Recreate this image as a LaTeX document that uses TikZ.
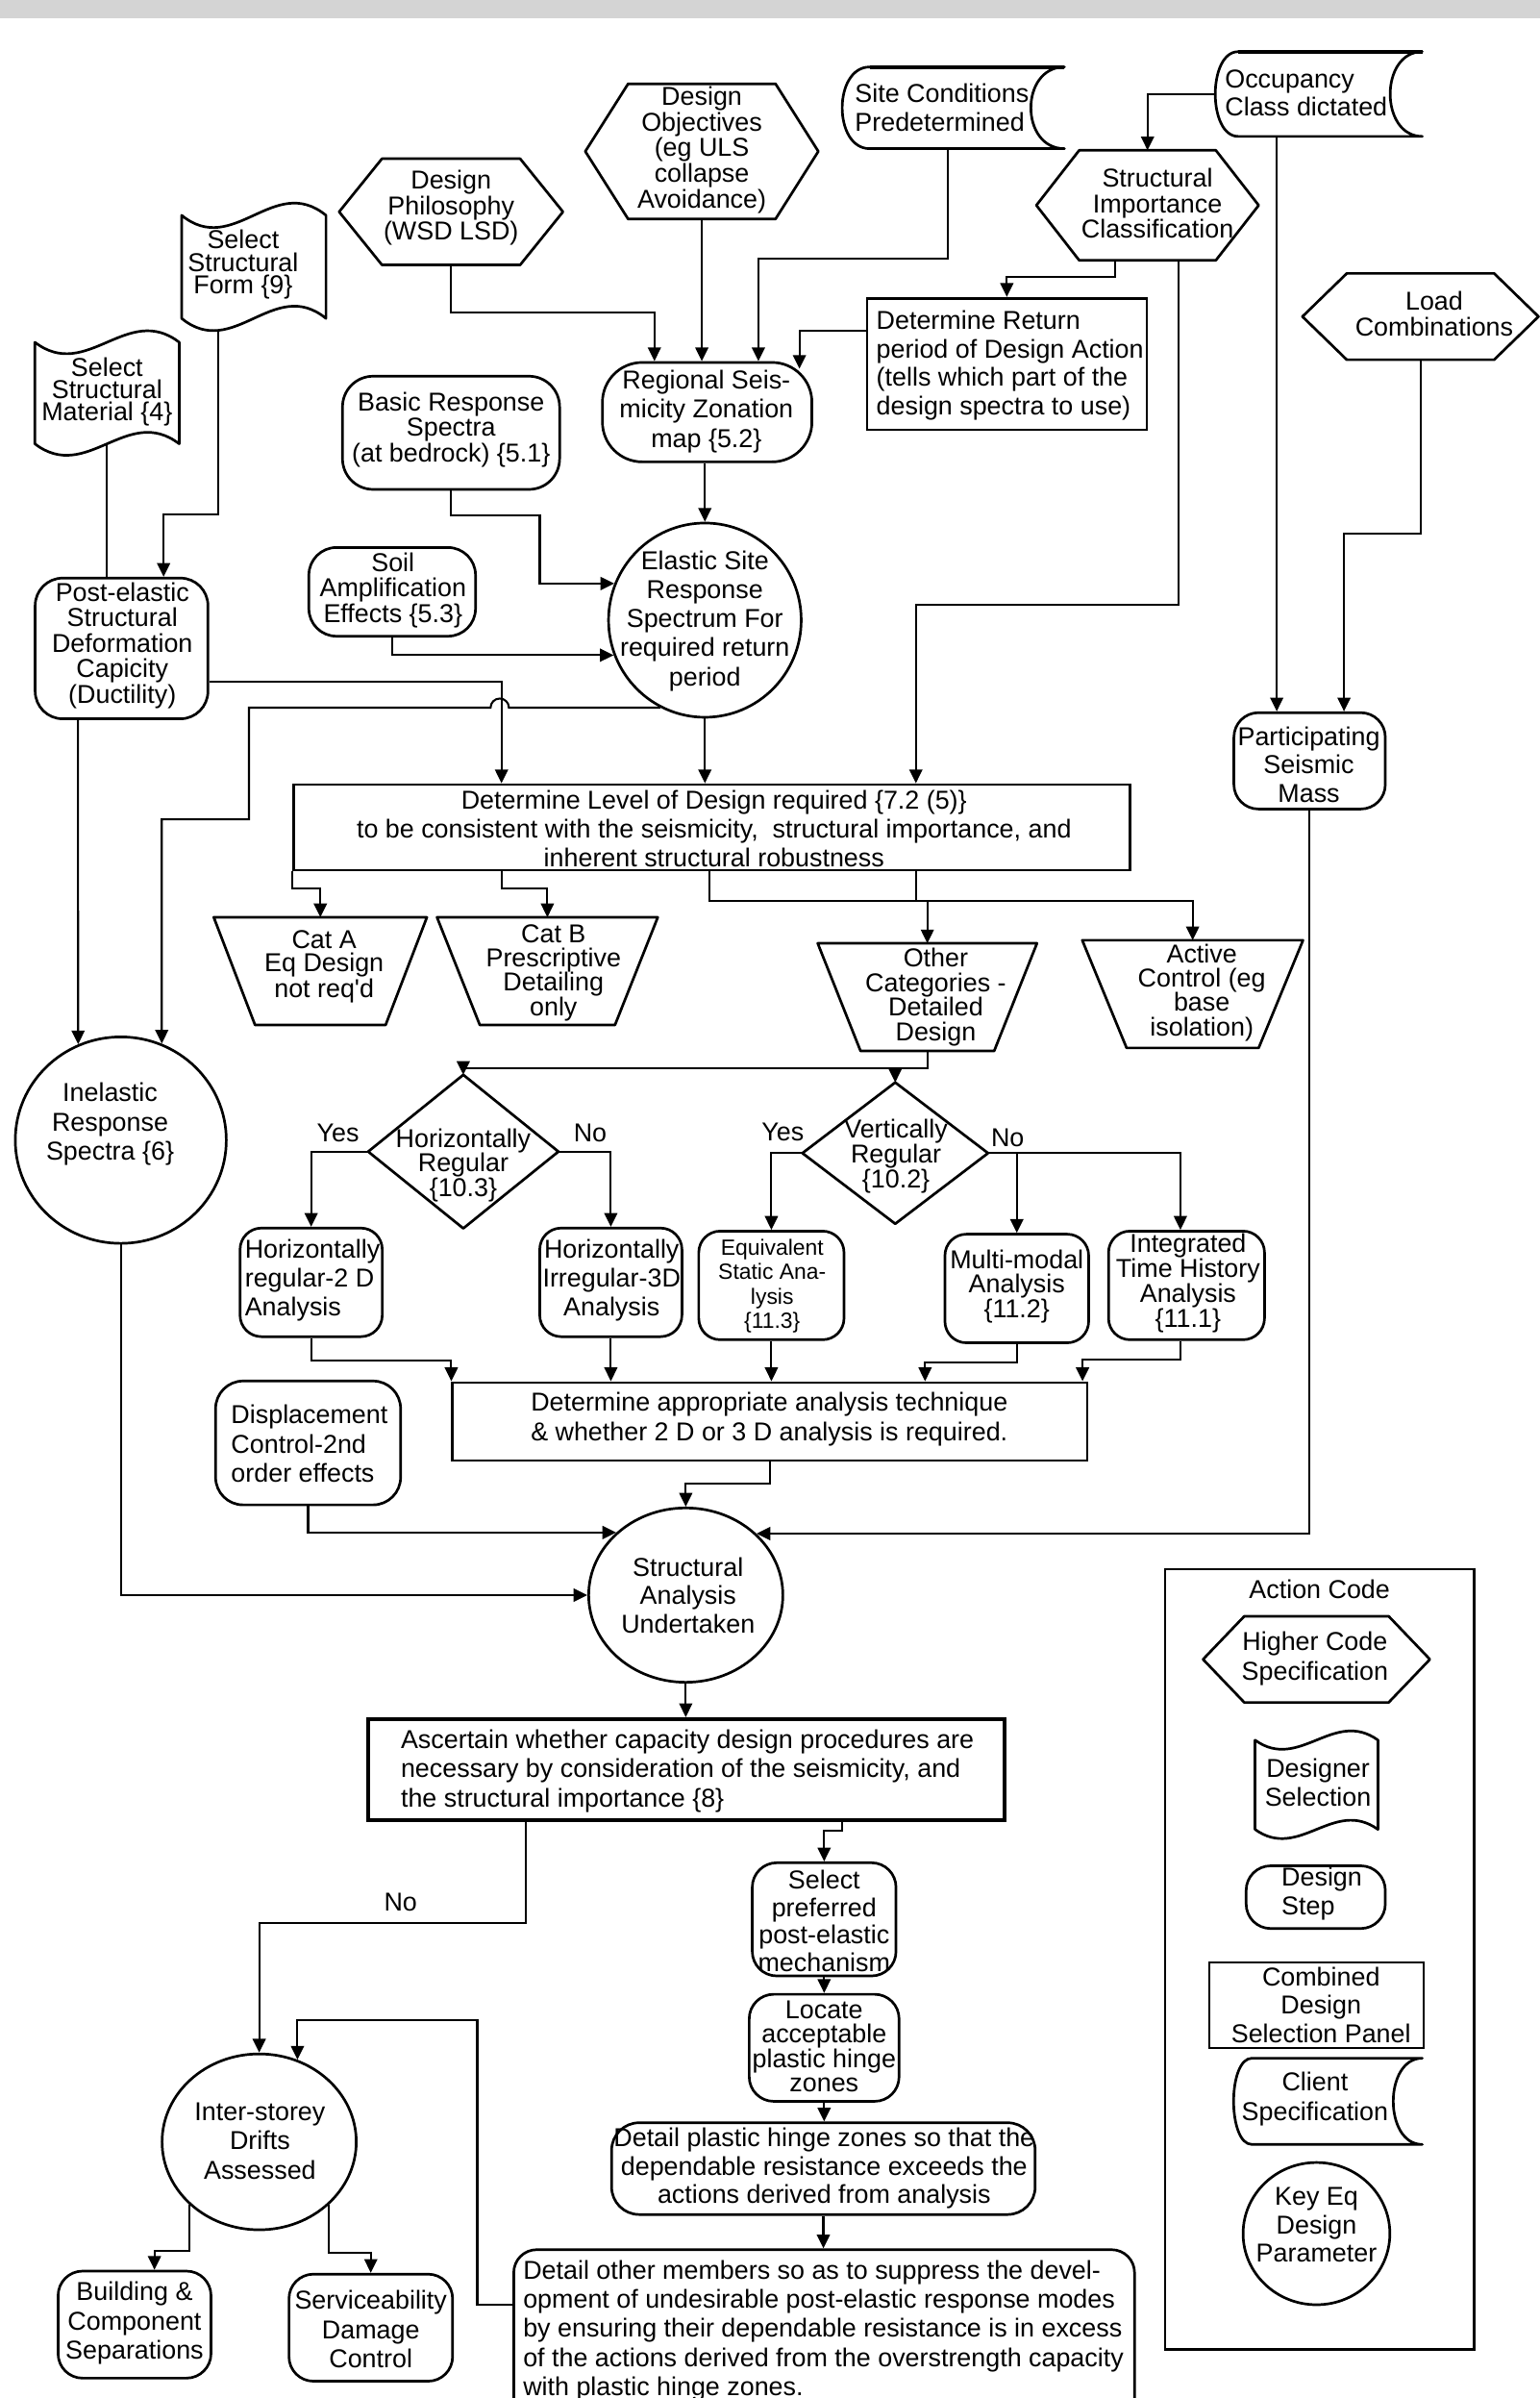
\documentclass[tikz,border=0pt]{standalone}
\usepackage{fontspec}
\setmainfont{Liberation Sans}
\usetikzlibrary{shapes.geometric,arrows.meta,calc}
\newcommand\hexo[2]{\draw[outl] (#1.west) -- ([xshift=#2]#1.north west) -- ([xshift=-#2]#1.north east) -- (#1.east) -- ([xshift=-#2]#1.south east) -- ([xshift=#2]#1.south west) -- cycle;}
\newcommand\trapo[2]{\draw[outl] (#1.north west) -- (#1.north east) -- ([xshift=-#2]#1.south east) -- ([xshift=#2]#1.south west) -- cycle;}
\newcommand\diamo[1]{\draw[outl] (#1.north) -- (#1.east) -- (#1.south) -- (#1.west) -- cycle;}
\newcommand\tapo[2]{\draw[outl] (#1.north west) .. controls ($(#1.north west)!0.36!(#1.north east)+(0,#2)$) and ($(#1.north west)!0.64!(#1.north east)+(0,-#2)$) .. (#1.north east) -- (#1.south east) .. controls ($(#1.south east)!0.36!(#1.south west)+(0,-#2)$) and ($(#1.south east)!0.64!(#1.south west)+(0,#2)$) .. (#1.south west) -- cycle;}
\newcommand\storo[3]{\draw[outl] ([xshift=#2]#1.north west) -- (#1.north east) .. controls ([xshift={-1.333*#3}]#1.north east) and ([xshift={-1.333*#3}]#1.south east) .. (#1.south east) -- ([xshift=#2]#1.south west) .. controls ([xshift={-0.333*#2}]#1.south west) and ([xshift={-0.333*#2}]#1.north west) .. cycle;}
\tikzset{
  outl/.style={line width=1.7pt, line join=round},
  sz/.style 2 args={minimum width=#1, minimum height=#2},
  sbox/.style={draw, rectangle, line width=1.7pt, inner sep=0pt},
  rbox/.style={sbox, rounded corners=#1},
  ghost/.style={draw=none, rectangle, inner sep=0pt},
  ell/.style={draw, ellipse, line width=1.7pt, inner sep=0pt},
  con/.style={line width=1.3pt},
  arr/.style={con, -{Triangle[length=9pt,width=8.5pt]}},
  tx/.style={inner sep=0pt, align=center, font=\fontsize{16.9}{#1}\selectfont},
  txs/.style={inner sep=0pt, align=center, font=\fontsize{14.4}{#1}\selectfont},
  tl/.style={inner sep=0pt, align=left, anchor=west, font=\fontsize{16.9}{#1}\selectfont},
}
\begin{document}
\begin{tikzpicture}[x=1pt,y=-1pt]
\useasboundingbox (0,0) rectangle (1007,1568);
\fill[black!17] (0,0) rectangle (1007,12);

% ---------- shapes ----------
\node[ghost,sz={152}{88}] (DO) at (459,99) {}; \hexo{DO}{28}
\node[ghost,sz={146}{69}] (DP) at (295,138.5) {}; \hexo{DP}{28}
\node[ghost,sz={145}{53}] (Site) at (623.5,70.5) {}; \storo{Site}{18}{22}
\draw[line width=2.6pt] ([xshift=18]Site.north west) -- (Site.north east);
\node[ghost,sz={135}{55}] (Occ) at (862.5,61.5) {}; \storo{Occ}{15}{21}
\draw[line width=2.6pt] ([xshift=15]Occ.north west) -- (Occ.north east);
\node[ghost,sz={145}{71.5}] (SIC) at (750.5,134.25) {}; \hexo{SIC}{28}
\node[sbox,sz={183}{86}] (Ret) at (658.5,238) {};
\node[ghost,sz={154}{56}] (Ld) at (929,207) {}; \hexo{Ld}{29}
\node[ghost,sz={94}{67}] (Frm) at (166,174.5) {}; \tapo{Frm}{27.7}
\node[ghost,sz={94}{66}] (Mat) at (70,257) {}; \tapo{Mat}{26}
\node[rbox=26,sz={137}{65}] (Reg) at (462.5,269.5) {};
\node[rbox=20,sz={142}{74}] (Bas) at (295,283) {};
\node[ell,sz={126}{127}] (El) at (461,405.5) {};
\node[rbox=18,sz={109}{58}] (Soil) at (256.5,387) {};
\node[rbox=18,sz={113}{92}] (PE) at (79.5,424) {};
\node[rbox=16,sz={99}{63}] (PSM) at (856.5,497.5) {};
\node[sbox,sz={547}{56}] (DL) at (465.5,541) {};
\node[ghost,sz={139}{70}] (CatA) at (209.5,635) {}; \trapo{CatA}{27}
\node[ghost,sz={144}{70}] (CatB) at (358,635) {}; \trapo{CatB}{28}
\node[ghost,sz={143}{70}] (Oth) at (606.5,652) {}; \trapo{Oth}{28}
\node[ghost,sz={144}{70}] (Act) at (780,650) {}; \trapo{Act}{29}
\node[ell,sz={138}{135}] (In) at (79,745.5) {};
\node[ghost,sz={124}{100}] (HR) at (303,753) {}; \diamo{HR}
\node[ghost,sz={121}{92}] (VR) at (585.5,754) {}; \diamo{VR}
\node[rbox=14,sz={93}{71}] (H2) at (203.5,838.5) {};
\node[rbox=14,sz={93}{71}] (H3) at (399.5,838.5) {};
\node[rbox=14,sz={95}{71}] (EQ) at (504.5,840.5) {};
\node[rbox=14,sz={94}{71}] (MM) at (665,842.5) {};
\node[rbox=14,sz={102}{71}] (IT) at (776,840.5) {};
\node[sbox,sz={415}{51}] (AN) at (503.5,929.5) {};
\node[rbox=18,sz={121}{81}] (Dsp) at (201.5,943.5) {};
\node[ell,sz={127}{114}] (SA) at (448.5,1043) {};
\node[sbox,line width=2.4pt,sz={416}{66}] (Asc) at (449,1157) {};
\node[rbox=16,sz={94}{74}] (SP) at (539,1255) {};
\node[rbox=16,sz={98}{70}] (Loc) at (539,1339) {};
\node[rbox=18,sz={277}{60}] (DPl) at (538.5,1418) {};
\node[rbox=15,sz={406}{140}] (DOt) at (539,1541) {};
\node[ell,sz={127}{115}] (IS) at (169.5,1400.5) {};
\node[rbox=16,sz={100}{70}] (Bld) at (88,1520) {};
\node[rbox=16,sz={107}{70}] (Svc) at (242.5,1522) {};

% legend
\node[sbox,line width=1.8pt,sz={202}{510}] (ACbox) at (863,1281) {};
\node[ghost,sz={148}{56}] (HC) at (861,1085) {}; \hexo{HC}{27}
\node[ghost,sz={80}{58}] (DS) at (861,1167) {}; \tapo{DS}{20.8}
\node[rbox=16,sz={91}{41}] (Stp) at (860.5,1240.5) {};
\node[sbox,line width=1.4pt,sz={140}{56}] (CB) at (861,1311) {};
\node[ghost,sz={123}{56}] (Cl) at (868.5,1374) {}; \storo{Cl}{12}{19}
\node[ell,sz={96}{93}] (KE) at (861,1460.5) {};

% ---------- texts ----------
\node[tx=15.5] (tDO) at (459,98) {Design\\Objectives\\(eg ULS\\collapse\\Avoidance)};
\node[tx=15.5] (tDP) at (295,136) {Design\\Philosophy\\(WSD LSD)};
\node[tl=19] (tSite) at (559,70.5) {Site Conditions\\Predetermined};
\node[tl=18] (tOcc) at (801,61) {Occupancy\\Class dictated};
\node[tx=16.5] (tSIC) at (757,133) {Structural\\Importance\\Classification};
\node[tl=18.7] (tRet) at (573,239) {Determine Return\\period of Design Action\\(tells which part of the\\design spectra to use)};
\node[tx=17] (tLd) at (938,205.5) {Load\\Combinations};
\node[tx=15] (tFrm) at (159,173) {Select\\Structural\\Form \{9\}};
\node[tx=14.5] (tMat) at (70,256) {Select\\Structural\\Material \{4\}};
\node[tx=19] (tReg) at (462,269) {Regional Seis-\\micity Zonation\\map \{5.2\}};
\node[tx=16.5] (tBas) at (295,281) {Basic Response\\Spectra\\(at bedrock) \{5.1\}};
\node[tx=19] (tEl) at (461,406) {Elastic Site\\Response\\Spectrum For\\required return\\period};
\node[tx=16.5] (tSoil) at (257,386) {Soil\\Amplification\\Effects \{5.3\}};
\node[tx=16.7] (tPE) at (80,422) {Post-elastic\\Structural\\Deformation\\Capicity\\(Ductility)};
\node[tx=18.5] (tPSM) at (856,500) {Participating\\Seismic\\Mass};
\node[tx=19] (tDL) at (467,542) {Determine Level of Design required \{7.2 (5)\}\\to be consistent with the seismicity,\ \ structural importance, and\\inherent structural robustness};
\node[tx=15.5] (tA) at (212,632) {Cat A\\Eq Design\\not req\textquotesingle d};
\node[tx=16] (tB) at (362,636) {Cat B\\Prescriptive\\Detailing\\only};
\node[tx=16] (tO) at (612,652) {Other\\Categories -\\Detailed\\Design};
\node[tx=16] (tAct) at (786,649) {Active\\Control (eg\\base\\isolation)};
\node[tx=19] (tIn) at (72,735) {Inelastic\\Response\\Spectra \{6\}};
\node[tx=16] (tHR) at (303,762) {Horizontally\\Regular\\\{10.3\}};
\node[tx=16.5] (tVR) at (586,756) {Vertically\\Regular\\\{10.2\}};
\node[tx=19] (yes1) at (221,741) {Yes};
\node[tx=19] (no1) at (386,741) {No};
\node[tx=19] (yes2) at (512,740) {Yes};
\node[tx=19] (no2) at (659,744) {No};
\node[tl=19] (tH2) at (160,837) {Horizontally\\regular-2 D\\Analysis};
\node[tx=19] (tH3) at (400,837) {Horizontally\\Irregular-3D\\Analysis};
\node[txs=16] (tEQ) at (505,841) {Equivalent\\Static Ana-\\lysis\\\{11.3\}};
\node[tx=16] (tMM) at (665,841) {Multi-modal\\Analysis\\\{11.2\}};
\node[tx=16.3] (tIT) at (777,839) {Integrated\\Time History\\Analysis\\\{11.1\}};
\node[tl=20] (tAN) at (347,928) {Determine appropriate analysis technique\\\& whether 2 D or 3 D analysis is required.};
\node[tl=19] (tDsp) at (151,944) {Displacement\\Control-2nd\\order effects};
\node[tx=18.5] (tSA) at (450,1043) {Structural\\Analysis\\Undertaken};
\node[tl=19] (tAsc) at (262,1158) {Ascertain whether capacity design procedures are\\necessary by consideration of the seismicity, and\\the structural importance \{8\}};
\node[tx=19] (no3) at (262,1244) {No};
\node[tx=18] (tSP) at (539,1256) {Select\\preferred\\post-elastic\\mechanism};
\node[tx=16] (tLoc) at (539,1338) {Locate\\acceptable\\plastic hinge\\zones};
\node[tx=18.5] (tDPl) at (539,1418) {Detail plastic hinge zones so that the\\dependable resistance exceeds the\\actions derived from analysis};
\node[tl=19] (tDOt) at (342,1524) {Detail other members so as to suppress the devel-\\opment of undesirable post-elastic response modes\\by ensuring their dependable resistance is in excess\\of the actions derived from the overstrength capacity\\with plastic hinge zones.};
\node[tx=19] (tIS) at (170,1400) {Inter-storey\\Drifts\\Assessed};
\node[tx=19] (tBld) at (88,1519) {Building \&\\Component\\Separations};
\node[tx=19] (tSvc) at (242.5,1523) {Serviceability\\Damage\\Control};
\node[tx=19] (tAC) at (863,1039) {Action Code};
\node[tx=19] (tHC) at (860,1084.5) {Higher Code\\Specification};
\node[tx=19] (tDS) at (862,1165.5) {Designer\\Selection};
\node[tl=19] (tStp) at (838,1238.5) {Design\\Step};
\node[tx=18.5] (tCB) at (864,1311) {Combined\\Design\\Selection Panel};
\node[tx=19] (tCl) at (860,1372.5) {Client\\Specification};
\node[tx=18.5] (tKE) at (861,1455) {Key Eq\\Design\\Parameter};

% ---------- connectors ----------
\draw[arr] (Occ.west) -| (SIC.north);
\coordinate (o1) at ([xshift=-27.5]Occ.south);
\draw[arr] (o1) -- (o1 |- PSM.north);
\draw[arr] (Ld.south) -- ++(0,114) -| ([xshift=22.5]PSM.north);
\draw[arr] ([xshift=-21.5]SIC.south) -- ++(0,11) -| (Ret.north);
\draw[arr] ([xshift=20.5]SIC.south) -- ++(0,225) -| ([xshift=133.5]DL.north);
\draw[arr] ([yshift=22]Ret.west) -| ([xshift=-9,yshift=-5]Reg.north east);
\draw[arr] ([xshift=-3.5]Site.south) -- ++(0,72) -| ([xshift=33.5]Reg.north);
\draw[arr] (DO.south) -- (DO.south |- Reg.north);
\draw[arr] (DP.south) -- ++(0,31) -| ([xshift=-34.5]Reg.north);
\draw[arr] (El.north |- Reg.south) -- (El.north);
\draw[arr] (Bas.south) -- ++(0,16) -- ++(58,0) |- (El.158);
\draw[arr] (Soil.south) |- (El.201);
\coordinate (f1) at ([xshift=-23,yshift=-8]Frm.south);
\draw[arr] (f1) -- ++(0,120) -| ([xshift=27.5]PE.north);
\draw[con] (Mat.south) -- (Mat.south |- PE.north);
\draw[arr] ([yshift=-22]PE.east) -| ([xshift=-137.5]DL.north);
\draw[arr] (El.243.7) -- ++(-99,0) arc[start angle=0,end angle=180,radius=6pt] -- ++(-158,0) -- ++(0,73) -| (In.67.4);
\draw[arr] ([xshift=-28.5]PE.south) -- (In.114.4);
\draw[arr] (El.south) -- (El.south |- DL.north);
\draw[arr] (DL.south west) -- ++(0,11) -| (CatA.north);
\draw[arr] ([xshift=-137.5]DL.south) -- ++(0,11) -| (CatB.north);
\draw[arr] ([xshift=-1.5]DL.south) -- ++(0,19) -| (Act.north);
\draw[arr] ([xshift=133.5]DL.south) -- ++(0,19) -| (Oth.north);
\coordinate (j1) at ([yshift=-11]Oth.south);
\draw[arr] (Oth.south) -- (j1) -| (HR.north);
\draw[arr] (j1 -| VR.north) -- (VR.north);
\draw[arr] (HR.west) -| (H2.north);
\draw[arr] (HR.east) -| (H3.north);
\draw[arr] (VR.west) -| (EQ.north);
\draw[arr] (VR.east) -| ([xshift=-4]IT.north);
\draw[arr] (VR.east -| MM.north) -- (MM.north);
\draw[arr] (H2.south) -- ++(0,15) -| (AN.north west);
\draw[arr] (H3.south) -- (H3.south |- AN.north);
\draw[arr] (EQ.south) -- (EQ.south |- AN.north);
\draw[arr] (MM.south) -- ++(0,12) -| ([xshift=101.5]AN.north);
\draw[arr] ([xshift=-4]IT.south) -- ++(0,12) -| ([xshift=204.5]AN.north);
\draw[arr] (AN.south) -- ++(0,14) -| (SA.north);
\draw[arr] (Dsp.south) |- (SA.138.5);
\draw[arr] (PSM.south) |- (SA.41.5);
\draw[arr] (In.south) |- (SA.west);
\draw[arr] (SA.south) -- (SA.south |- Asc.north);
\draw[arr] ([xshift=-105]Asc.south) -- ++(0,66) -| (IS.north);
\draw[arr] ([xshift=102]Asc.south) -- ++(0,6) -| (SP.north);
\draw[arr] (SP.south) -- (Loc.north);
\draw[arr] (Loc.south) -- (Loc.south |- DPl.north);
\draw[arr] (DPl.south) -- (DPl.south |- DOt.north);
\draw[arr] ([yshift=-37]DOt.north west) -- ++(-23,0) -- ++(0,-186) -| (IS.65.2);
\draw[arr] (IS.south west) -- ++(0,30) -| ([xshift=13]Bld.north);
\draw[arr] (IS.south east) -- ++(0,31) -| (Svc.north);
\end{tikzpicture}
\end{document}
